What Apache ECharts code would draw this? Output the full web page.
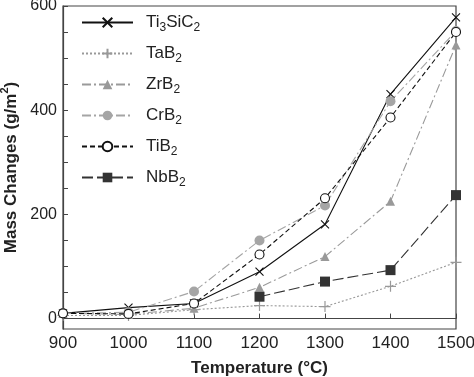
<!DOCTYPE html>
<html><head><meta charset="utf-8">
<script src="https://cdn.jsdelivr.net/npm/echarts@6/dist/echarts.min.js"></script>
<style>html,body{margin:0;padding:0;background:#fff}#c{width:474px;height:377px}</style>
</head><body><div id="c"></div>
<script>
const temps = [900, 1000, 1100, 1200, 1300, 1400, 1500];
const ti3sic2 = [10, 21, 29, 90, 181, 431, 578];
const tab2 = [6, 6, 17, 25, 23, 62, 108];
const zrb2 = [10, 8, 20, 60, 119, 225, 525];
const crb2 = [10, 12, 52, 150, 217, 417, 552];
const tib2 = [10, 9, 29, 123, 231, 386, 550];
const nbb2 = [null, null, null, 42, 71, 93, 237];
const yLabels = [0, 200, 400, 600];
const yTicks = [0, 50, 100, 150, 200, 250, 300, 350, 400, 450, 500, 550, 600];
const xLabels = [900, 1000, 1100, 1200, 1300, 1400, 1500];

const legendText = {
  'Ti3SiC2': '{n|Ti}{s|3}{n|SiC}{s|2}',
  'TaB2': '{n|TaB}{s|2}',
  'ZrB2': '{n|ZrB}{s|2}',
  'CrB2': '{n|CrB}{s|2}',
  'TiB2': '{n|TiB}{s|2}',
  'NbB2': '{n|NbB}{s|2}'
};
function pairs(arr){ return temps.map((t,i)=>[t, arr[i]]); }
const FONT = '"Liberation Sans", Arial, sans-serif';

function mk(name, data, color, lineType, symbol, size, itemStyle, width){
  return {
    name, type:'line', data: pairs(data), connectNulls:false,
    symbol, symbolSize:size,
    lineStyle:{color, width: width||1.1, type: lineType},
    itemStyle: itemStyle,
    z: 2
  };
}
const chart = echarts.init(document.getElementById('c'), null, {renderer:'canvas'});
chart.setOption({
  animation:false,
  grid:{left:63, right:18, top:6, bottom:48, containLabel:false, outerBoundsMode:'none',
    show:true, borderColor:'#444', borderWidth:1.2},
  legend:{
    orient:'vertical', left:81, top:14, padding:0, itemWidth:51, itemHeight:12, itemGap:11.5,
    formatter: n => legendText[n],
    textStyle:{padding:[0,0,0,8], rich:{
      n:{fontSize:17, fontFamily:FONT, color:'#222', lineHeight:22, verticalAlign:'middle'},
      s:{fontSize:12, fontFamily:FONT, color:'#222', lineHeight:22, verticalAlign:'bottom'}
    }}
  },
  xAxis:{
    type:'value', min:900, max:1500, interval:100,
    name:'Temperature (°C)', nameLocation:'middle', nameGap:31,
    nameTextStyle:{fontSize:17, fontWeight:'bold', fontFamily:FONT, color:'#222'},
    axisLine:{show:true, lineStyle:{color:'#444', width:1.2}},
    axisTick:{show:true, inside:true, length:5, lineStyle:{color:'#444'}},
    axisLabel:{fontSize:17, fontFamily:FONT, color:'#222', margin:6, showMinLabel:true, showMaxLabel:true,
      formatter: v => String(v)},
    splitLine:{show:false}
  },
  yAxis:{
    type:'value', min:-20, max:600,
    name:'{a|Mass Changes (g/m}{b|2}{a|)}', nameLocation:'middle', nameGap:40,
    nameTextStyle:{rich:{
      a:{fontSize:17, fontWeight:'bold', fontFamily:FONT, color:'#222', lineHeight:22, verticalAlign:'middle'},
      b:{fontSize:11, fontWeight:'bold', fontFamily:FONT, color:'#222', lineHeight:22, verticalAlign:'top'}
    }},
    axisLine:{show:true, lineStyle:{color:'#444', width:1.2}},
    axisTick:{show:true, inside:true, length:5, customValues:yTicks, lineStyle:{color:'#444'}},
    axisLabel:{fontSize:16, fontFamily:FONT, color:'#222', margin:6, customValues:yLabels},
    splitLine:{show:false}
  },
  series:[
    mk('Ti3SiC2', ti3sic2, '#111', 'solid', 'path://M0,0L10,10M10,0L0,10', 8, {color:'#111', borderColor:'#111', borderWidth:1.1}),
    mk('TaB2', tab2, '#999', [2,2], 'path://M5,0L5,10M0,5L10,5', 11, {color:'#999', borderColor:'#999', borderWidth:1.2}),
    mk('ZrB2', zrb2, '#9a9a9a', [9,3,2,3], 'triangle', 9, {color:'#999'}),
    mk('CrB2', crb2, '#a5a5a5', [9,3,2,3], 'circle', 10, {color:'#a5a5a5'}),
    mk('TiB2', tib2, '#111', [5,3], 'circle', 9, {color:'#fff', borderColor:'#111', borderWidth:1.1}),
    mk('NbB2', nbb2, '#333', [11,4], 'rect', 10, {color:'#333'})
  ]
});
</script></body></html>
